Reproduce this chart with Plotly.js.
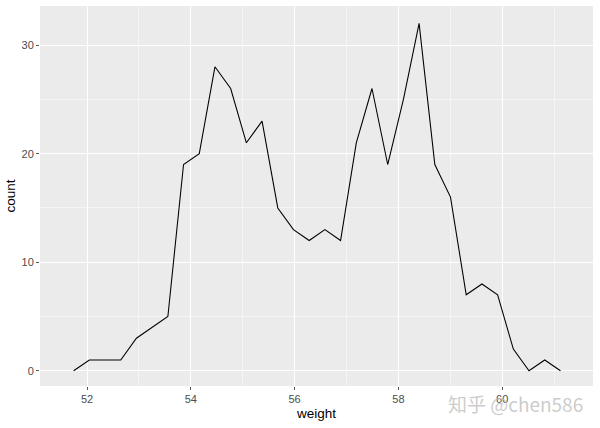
<!DOCTYPE html>
<html>
<head>
<meta charset="utf-8">
<script src="https://cdn.plot.ly/plotly-3.0.1.min.js"></script>
<style>html,body{margin:0;padding:0;background:#fff;}#chart{width:600px;height:428px;}</style>
</head>
<body>
<div id="chart"></div>
<script>
// Bin centres (weight) of the frequency polygon
const weight = [51.742, 52.045, 52.347, 52.650, 52.952, 53.255, 53.558, 53.860,
  54.163, 54.465, 54.768, 55.071, 55.373, 55.676, 55.978, 56.281,
  56.584, 56.886, 57.189, 57.491, 57.794, 58.097, 58.399, 58.702,
  59.004, 59.307, 59.610, 59.912, 60.215, 60.517, 60.820, 61.123];
// Counts per bin
const count = [0, 1, 1, 1, 3, 4, 5, 19,
  20, 28, 26, 21, 23, 15, 13, 12,
  13, 12, 21, 26, 19, 25, 32, 19,
  16, 7, 8, 7, 2, 0, 1, 0];
const xTicks = [52, 54, 56, 58, 60];
const yTicks = [0, 10, 20, 30];
const xMinor = [51, 53, 55, 57, 59, 61];
const yMinor = [5, 15, 25];

const trace = {
  x: weight, y: count, type: 'scatter', mode: 'lines',
  line: {color: '#000000', width: 1.07},
  hoverinfo: 'x+y'
};

const axisCommon = {
  showgrid: true, gridcolor: '#FFFFFF', gridwidth: 1,
  zeroline: false, showline: false,
  ticks: 'outside', ticklen: 3, tickwidth: 1, tickcolor: '#555555',
  tickfont: {family: 'Liberation Sans, Arial, sans-serif', size: 11, color: '#4D4D4D'}
};

const layout = {
  width: 600, height: 428,
  margin: {l: 40, r: 7, t: 6, b: 42},
  paper_bgcolor: '#FFFFFF', plot_bgcolor: '#EBEBEB',
  showlegend: false,
  xaxis: Object.assign({}, axisCommon, {
    range: [51.094, 61.75], tickvals: xTicks, ticktext: xTicks.map(String),
    minor: {tickvals: xMinor, showgrid: true, gridcolor: '#FFFFFF', gridwidth: 0.5, ticklen: 0},
    title: {text: 'weight', standoff: 4, font: {family: 'Liberation Sans, Arial, sans-serif', size: 13.5, color: '#000000'}}
  }),
  yaxis: Object.assign({}, axisCommon, {
    range: [-1.40, 33.6], tickvals: yTicks, ticktext: yTicks.map(String),
    minor: {tickvals: yMinor, showgrid: true, gridcolor: '#FFFFFF', gridwidth: 0.5, ticklen: 0},
    title: {text: 'count', standoff: 2, font: {family: 'Liberation Sans, Arial, sans-serif', size: 13.5, color: '#000000'}}
  }),
  annotations: [{
    text: '知乎 @chen586', xref: 'paper', yref: 'paper', x: 0.9855, y: -0.047,
    xanchor: 'right', yanchor: 'middle', showarrow: false,
    font: {family: 'Noto Sans CJK SC, sans-serif', size: 19, color: 'rgba(195,195,195,0.85)'}
  }]
};

Plotly.newPlot('chart', [trace], layout, {displayModeBar: false, staticPlot: true});
</script>
</body>
</html>
